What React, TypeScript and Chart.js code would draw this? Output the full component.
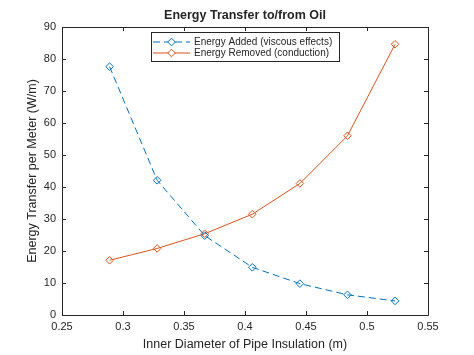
import React, { useEffect, useRef } from "react";
import { Chart, registerables } from "chart.js";

Chart.register(...registerables);

const diameters = [0.289, 0.328, 0.367, 0.406, 0.445, 0.484, 0.523];
const energyAdded = [77.6, 42.1, 24.8, 14.9, 9.8, 6.3, 4.4];
const energyRemoved = [17.1, 20.8, 25.4, 31.5, 41.1, 56.0, 84.6];
const seriesLabels = ["Energy Added (viscous effects)", "Energy Removed (conduction)"];
const titleText = "Energy Transfer to/from Oil";
const xTitle = "Inner Diameter of Pipe Insulation (m)";
const yTitle = "Energy Transfer per Meter (W/m)";

const BLUE = "#0072BD";
const ORANGE = "#D95319";
const AXIS = "#262626";
const FONT = "'Liberation Sans', Arial, Helvetica, sans-serif";

const boxPlugin = {
  id: "matlabBox",
  afterDraw(chart: any) {
    const ctx = chart.ctx;
    const { left, right, top, bottom } = chart.chartArea;
    const xs = chart.scales.x;
    const ys = chart.scales.y;
    ctx.save();
    ctx.strokeStyle = AXIS;
    ctx.lineWidth = 1;
    ctx.beginPath();
    ctx.rect(Math.round(left) + 0.5, Math.round(top) + 0.5, Math.round(right - left), Math.round(bottom - top));
    ctx.stroke();
    const tl = 4;
    ctx.beginPath();
    xs.ticks.forEach((t: any) => {
      const px = Math.round(xs.getPixelForValue(t.value)) + 0.5;
      ctx.moveTo(px, bottom);
      ctx.lineTo(px, bottom - tl);
      ctx.moveTo(px, top);
      ctx.lineTo(px, top + tl);
    });
    ys.ticks.forEach((t: any) => {
      const py = Math.round(ys.getPixelForValue(t.value)) + 0.5;
      ctx.moveTo(left, py);
      ctx.lineTo(left + tl, py);
      ctx.moveTo(right, py);
      ctx.lineTo(right - tl, py);
    });
    ctx.stroke();

    // legend
    ctx.font = `10px ${FONT}`;
    const datasets = chart.data.datasets;
    let maxW = 0;
    datasets.forEach((d: any) => {
      maxW = Math.max(maxW, ctx.measureText(d.label).width);
    });
    const sampleW = 37;
    const padL = 1.5;
    const gap = 4;
    const rowH = 11;
    const boxW = Math.round(padL + sampleW + gap + maxW + 7);
    const boxH = 29;
    const bx = Math.round((left + right) / 2 - boxW / 2) + 0.5;
    const by = Math.round(top) + 5.5;
    ctx.fillStyle = "#ffffff";
    ctx.fillRect(bx, by, boxW, boxH);
    ctx.strokeStyle = AXIS;
    ctx.lineWidth = 1;
    ctx.strokeRect(bx, by, boxW, boxH);
    datasets.forEach((d: any, i: number) => {
      const cy = by + 9.5 + rowH * i;
      const x0 = bx + padL;
      ctx.strokeStyle = d.borderColor;
      ctx.lineWidth = 1;
      ctx.setLineDash(d.borderDash || []);
      ctx.beginPath();
      ctx.moveTo(x0, cy);
      ctx.lineTo(x0 + sampleW, cy);
      ctx.stroke();
      ctx.setLineDash([]);
      const mx = x0 + sampleW / 2;
      const r = 3.8;
      ctx.fillStyle = "#ffffff";
      ctx.beginPath();
      ctx.moveTo(mx, cy - r);
      ctx.lineTo(mx + r, cy);
      ctx.lineTo(mx, cy + r);
      ctx.lineTo(mx - r, cy);
      ctx.closePath();
      ctx.fill();
      ctx.stroke();
      ctx.fillStyle = AXIS;
      ctx.textBaseline = "middle";
      ctx.textAlign = "left";
      ctx.fillText(d.label, x0 + sampleW + gap, cy);
    });
    ctx.restore();
  },
};

export default function App() {
  const ref = useRef<HTMLCanvasElement | null>(null);
  useEffect(() => {
    if (!ref.current) return;
    const chart = new Chart(ref.current, {
      type: "line",
      data: {
        datasets: [
          {
            label: seriesLabels[0],
            data: diameters.map((x, i) => ({ x, y: energyAdded[i] })),
            borderColor: BLUE,
            backgroundColor: "rgba(0,0,0,0)",
            borderWidth: 1,
            borderDash: [7, 4],
            pointStyle: "rectRot",
            pointRadius: 3.8,
            pointBorderWidth: 1,
            pointBorderColor: BLUE,
            pointBackgroundColor: "rgba(0,0,0,0)",
            tension: 0,
          },
          {
            label: seriesLabels[1],
            data: diameters.map((x, i) => ({ x, y: energyRemoved[i] })),
            borderColor: ORANGE,
            backgroundColor: "rgba(0,0,0,0)",
            borderWidth: 1,
            pointStyle: "rectRot",
            pointRadius: 3.8,
            pointBorderWidth: 1,
            pointBorderColor: ORANGE,
            pointBackgroundColor: "rgba(0,0,0,0)",
            tension: 0,
          },
        ],
      },
      options: {
        animation: false,
        responsive: true,
        maintainAspectRatio: false,
        layout: { padding: { left: 0, right: 46, top: 0, bottom: 0 } },
        plugins: {
          legend: { display: false },
          tooltip: { enabled: false },
          title: {
            display: true,
            text: titleText,
            fullSize: false,
            color: AXIS,
            font: { family: FONT, size: 12.5, weight: "bold" },
            padding: { top: 8.5, bottom: 3.5 },
          },
        },
        scales: {
          x: {
            type: "linear",
            min: 0.25,
            max: 0.55,
            grid: { display: false, drawTicks: false },
            border: { display: false },
            ticks: {
              stepSize: 0.05,
              padding: 5,
              color: AXIS,
              font: { family: FONT, size: 11 },
              maxRotation: 0,
              callback: (v: any) => String(parseFloat(Number(v).toFixed(2))),
            },
            title: {
              display: true,
              text: xTitle,
              color: AXIS,
              font: { family: FONT, size: 12.5 },
              padding: { top: 0, bottom: 2.5 },
            },
            afterFit: (s: any) => {
              s.height = 40;
            },
          },
          y: {
            type: "linear",
            min: 0,
            max: 90,
            grid: { display: false, drawTicks: false },
            border: { display: false },
            ticks: {
              stepSize: 10,
              padding: 6,
              color: AXIS,
              font: { family: FONT, size: 11 },
            },
            title: {
              display: true,
              text: yTitle,
              color: AXIS,
              font: { family: FONT, size: 12.5 },
              padding: { top: 25.5, bottom: 0 },
            },
            afterFit: (s: any) => {
              s.width = 62;
            },
          },
        },
      },
      plugins: [boxPlugin],
    });
    return () => chart.destroy();
  }, []);
  return (
    <div style={{ position: "fixed", left: 0, top: 0, width: 474, height: 355, background: "#fff" }}>
      <canvas ref={ref} />
    </div>
  );
}
